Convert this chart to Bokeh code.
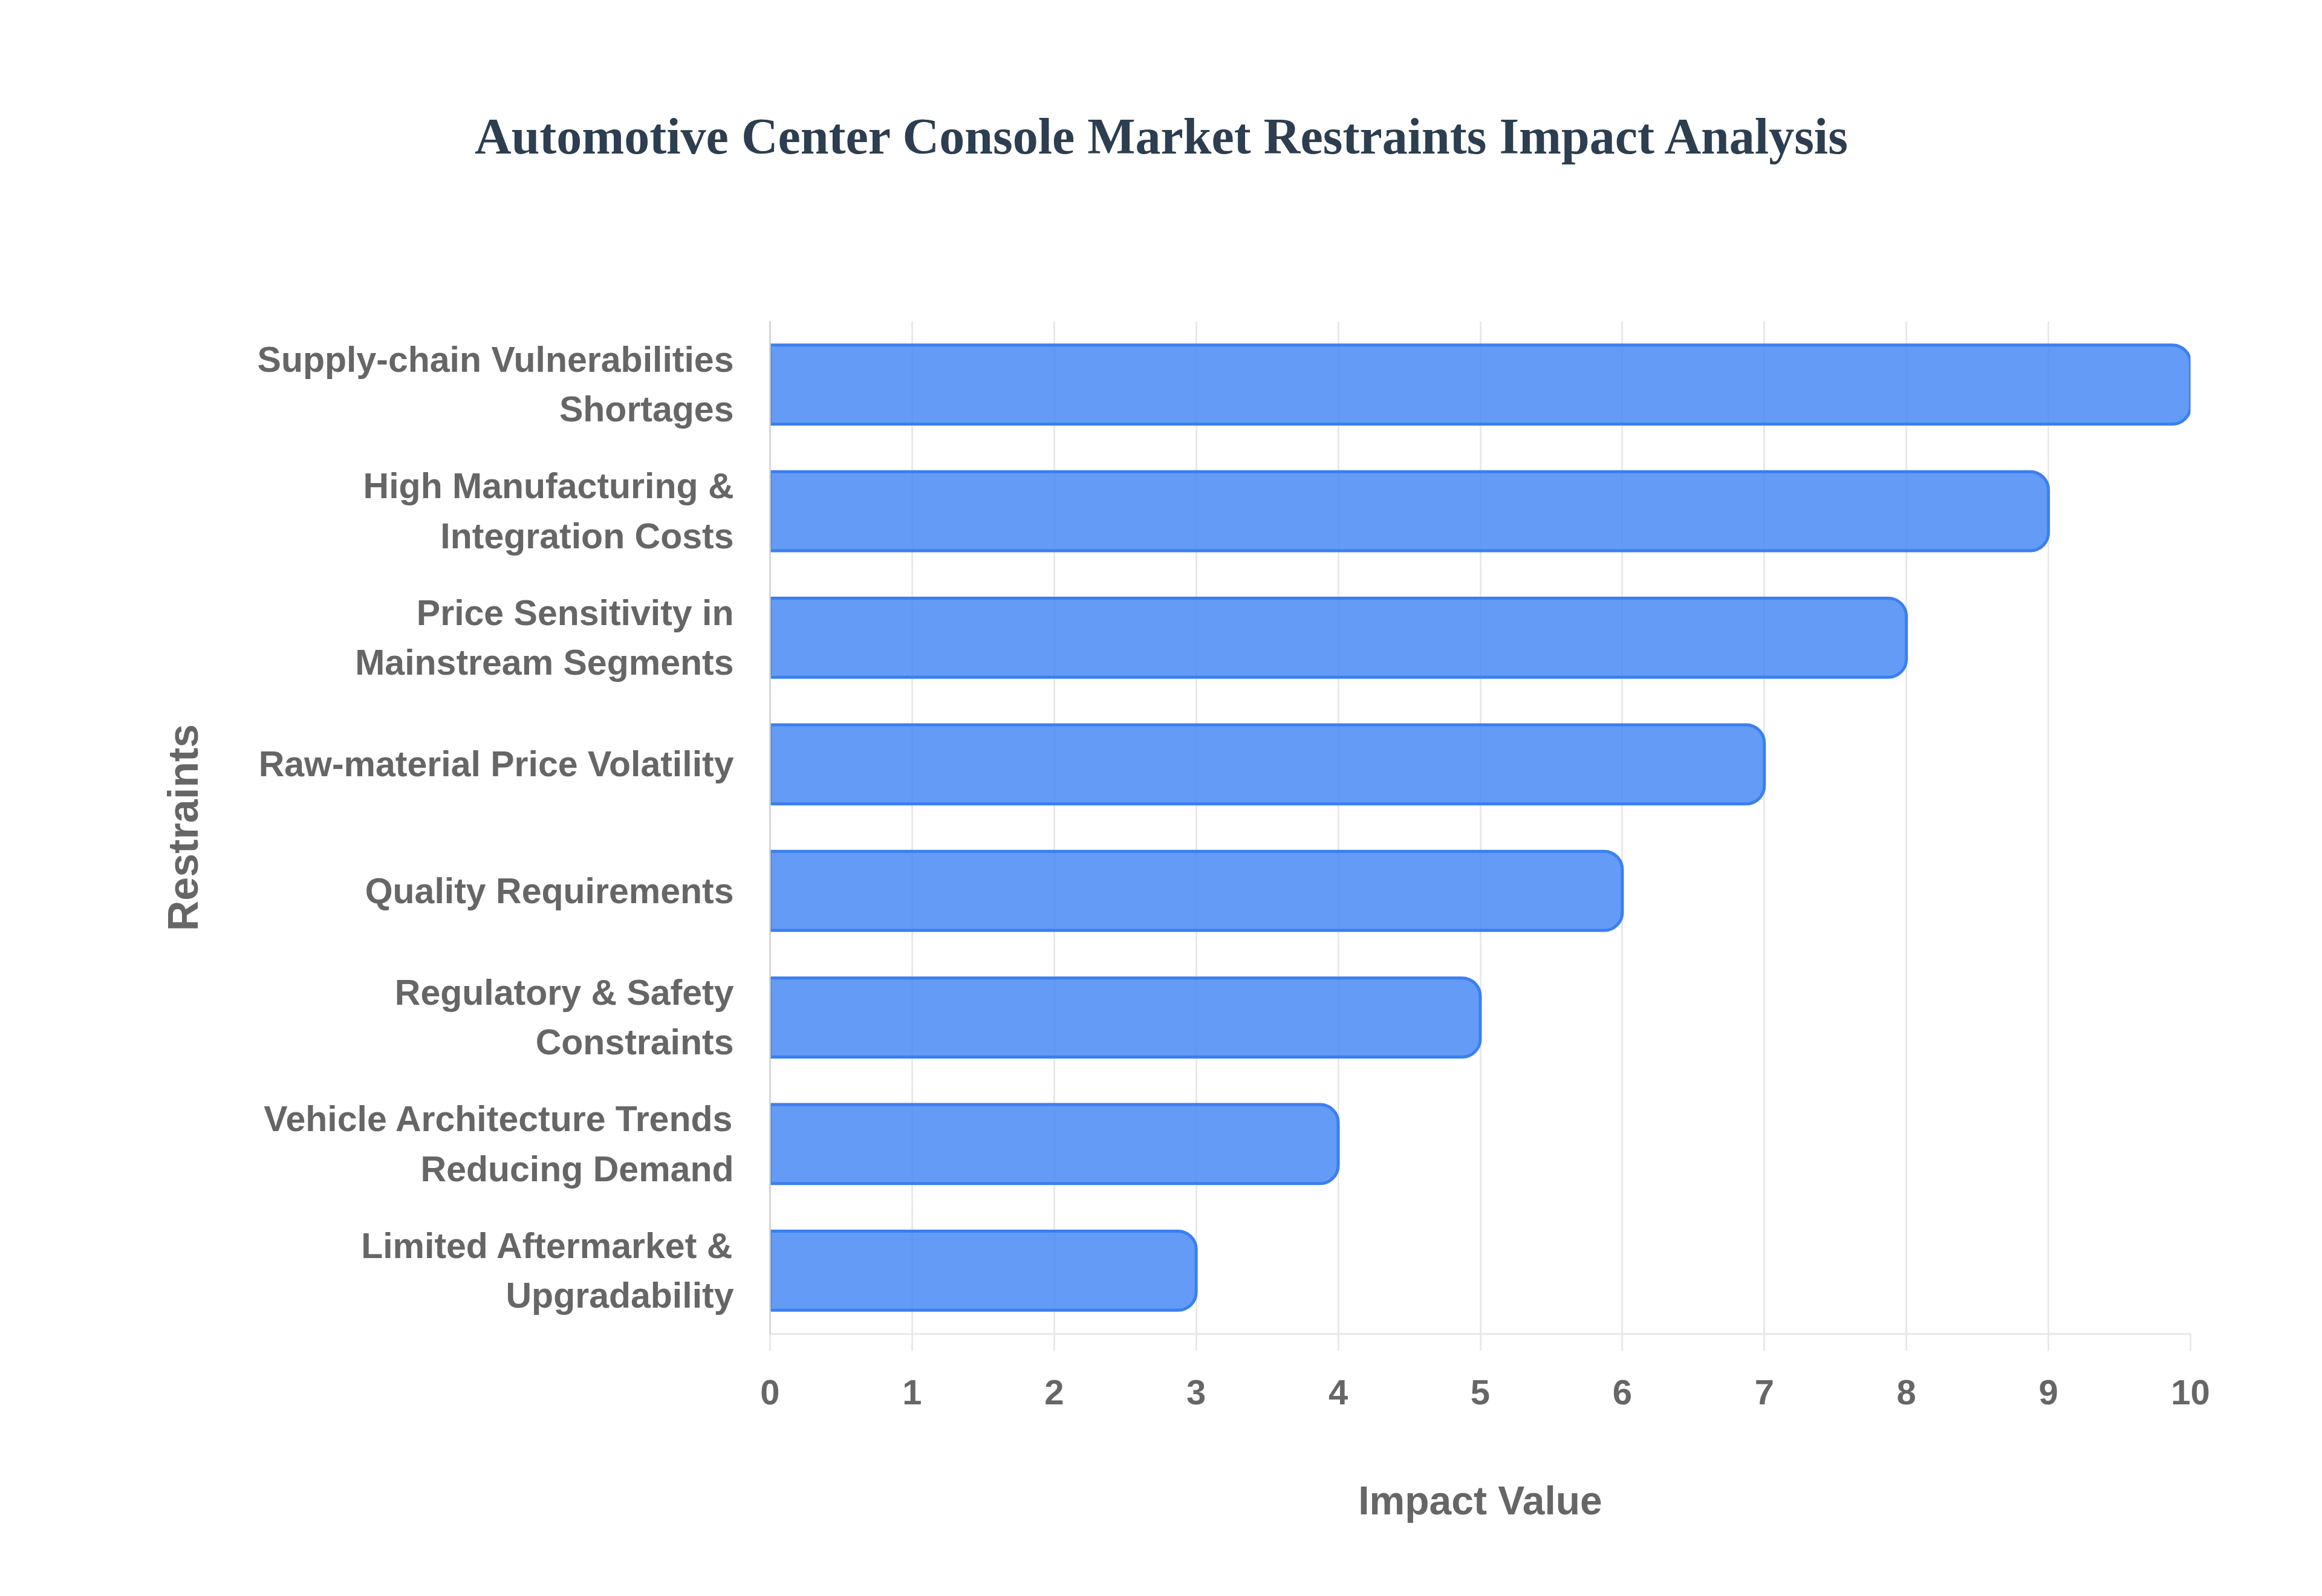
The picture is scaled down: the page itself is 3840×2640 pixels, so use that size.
from bokeh.plotting import figure
from bokeh.models import FactorRange, Range1d, FixedTicker, Label, ColumnDataSource
from bokeh.embed import file_html
from bokeh.resources import INLINE

# ---- data ----
title_text = "Automotive Center Console Market Restraints Impact Analysis"
restraints = [
    "Supply-chain Vulnerabilities\nShortages",
    "High Manufacturing &\nIntegration Costs",
    "Price Sensitivity in\nMainstream Segments",
    "Raw-material Price Volatility",
    "Quality Requirements",
    "Regulatory & Safety\nConstraints",
    "Vehicle Architecture Trends\nReducing Demand",
    "Limited Aftermarket &\nUpgradability",
]
impact = [10, 9, 8, 7, 6, 5, 4, 3]
x_ticks = [0, 1, 2, 3, 4, 5, 6, 7, 8, 9, 10]
x_title = "Impact Value"
y_title = "Restraints"

W, H = 3824, 2624
L, R, T, B = 1273, 202, 531, 418

source = ColumnDataSource(dict(cat=restraints, val=impact))

p = figure(
    width=W, height=H,
    y_range=FactorRange(factors=list(reversed(restraints))),
    x_range=Range1d(0, 10),
    output_backend="svg", toolbar_location=None,
    min_border_left=L, min_border_right=R, min_border_top=T, min_border_bottom=B,
)
p.background_fill_color = "white"
p.border_fill_color = "white"
p.outline_line_color = None

p.hbar(y="cat", right="val", left=0, height=0.625, source=source,
       fill_color="#4285f4", fill_alpha=0.82,
       line_color="#3b7ff0", line_width=5,
       border_radius=(0, 30, 30, 0))

# grid
p.ygrid.grid_line_color = None
p.xgrid.grid_line_color = "#e5e5e5"
p.xgrid.grid_line_width = 2.5
p.xgrid.level = "underlay"

# x axis
xa = p.xaxis[0]
xa.ticker = FixedTicker(ticks=x_ticks)
xa.axis_line_color = "#e5e5e5"
xa.axis_line_width = 2.5
xa.major_tick_line_color = "#e5e5e5"
xa.major_tick_line_width = 2.5
xa.major_tick_out = 28
xa.major_tick_in = 0
xa.minor_tick_line_color = None
xa.major_label_text_font = "Liberation Sans"
xa.major_label_text_font_style = "bold"
xa.major_label_text_font_size = "58px"
xa.major_label_text_color = "#666666"
xa.major_label_standoff = 48
xa.axis_label = x_title
xa.axis_label_text_font = "Liberation Sans"
xa.axis_label_text_font_style = "bold"
xa.axis_label_text_font_size = "66px"
xa.axis_label_text_color = "#666666"
xa.axis_label_standoff = 119

# y axis
ya = p.yaxis[0]
ya.axis_line_color = "#cfcfcf"
ya.axis_line_width = 2.5
ya.major_tick_line_color = None
ya.minor_tick_line_color = None
ya.major_tick_out = 0
ya.major_tick_in = 0
ya.major_label_text_font = "Liberation Sans"
ya.major_label_text_font_style = "bold"
ya.major_label_text_font_size = "59px"
ya.major_label_text_color = "#666666"
ya.major_label_text_line_height = 1.25
ya.major_label_standoff = 60
ya.axis_label = y_title
ya.axis_label_text_font = "Liberation Sans"
ya.axis_label_text_font_style = "bold"
ya.axis_label_text_font_size = "70px"
ya.axis_label_text_color = "#666666"
ya.axis_label_standoff = 81

# title (placed in the top panel so it is not clipped to the frame)
title = Label(x=650, y=306, x_units="screen", y_units="screen",
              text=title_text, text_align="center", text_baseline="middle",
              text_font="Liberation Serif", text_font_style="bold",
              text_font_size="84px", text_color="#2c3e50")
p.add_layout(title, "above")

open("out.html", "w").write(file_html(p, INLINE))
